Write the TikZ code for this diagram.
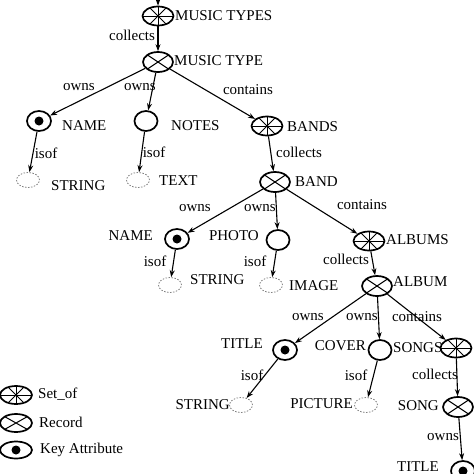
\documentclass[tikz,border=0pt]{standalone}
\usepackage{fontspec}
\setmainfont{Liberation Serif}
\usetikzlibrary{shapes.geometric,arrows.meta}
\begin{document}
\begin{tikzpicture}[x=1pt,y=-1pt,
  font=\fontsize{15}{17}\selectfont,
  base/.style={ellipse,draw,inner sep=0pt,line width=1.7pt},
  setof/.style={base,minimum width=31pt,minimum height=19pt,
    path picture={\foreach \a in {0,45,...,315}\draw[line width=1pt] (path picture bounding box.center) -- ++(\a:20pt);}},
  record/.style={base,minimum width=30pt,minimum height=20pt,
    path picture={\draw[line width=1pt] (path picture bounding box.north west) -- (path picture bounding box.south east)
      (path picture bounding box.north east) -- (path picture bounding box.south west);}},
  keyattr/.style={base,minimum width=24pt,minimum height=20pt,
    path picture={\fill (path picture bounding box.center) circle[radius=4.5pt];}},
  plainattr/.style={base,minimum width=23pt,minimum height=20pt},
  typenode/.style={ellipse,draw=gray,inner sep=0pt,minimum width=23pt,minimum height=15pt,line width=0.8pt,dash pattern=on 1.5pt off 1.5pt},
  conn/.style={-{Stealth[length=7pt,width=5pt]},line width=1.1pt},
  lab/.style={inner sep=0pt},
  tw/.style={inner sep=0pt,anchor=west},
  te/.style={inner sep=0pt,anchor=east}]
\useasboundingbox (0,0) rectangle (474,474);

% nodes
\node[setof] (mts) at (158,16) {};
\node[record] (mt) at (158,62) {};
\node[keyattr] (name1) at (39,121) {};
\node[plainattr] (notes) at (146,121) {};
\node[typenode] (str1) at (28,180) {};
\node[typenode] (text) at (138,180) {};
\node[setof] (bands) at (267,126) {};
\node[record] (band) at (275,182) {};
\node[keyattr] (name2) at (177,239) {};
\node[plainattr] (photo) at (278,240) {};
\node[typenode] (str2) at (170,285) {};
\node[typenode] (image) at (271,285) {};
\node[setof] (albums) at (369,241) {};
\node[record] (album) at (377,286) {};
\node[keyattr] (title1) at (285,350) {};
\node[plainattr] (cover) at (380,350) {};
\node[setof] (songs) at (456,348) {};
\node[typenode] (str3) at (241,405) {};
\node[typenode] (picture) at (366,405) {};
\node[record] (song) at (458,407) {};
\node[keyattr] (title2) at (463,471) {};
\coordinate (top) at (158,-4);

% names
\node[tw] (tmts) at (175,16) {MUSIC TYPES};
\node[tw] (tmt) at (174,61) {MUSIC TYPE};
\node[tw] (tname1) at (62,126) {NAME};
\node[tw] (tnotes) at (171,126) {NOTES};
\node[tw] (tstr1) at (51,186) {STRING};
\node[tw] (ttext) at (159,181) {TEXT};
\node[tw] (tbands) at (287,127) {BANDS};
\node[tw] (tband) at (295,182) {BAND};
\node[te] (tname2) at (153,236) {NAME};
\node[te] (tphoto) at (259,236) {PHOTO};
\node[tw] (tstr2) at (190,280) {STRING};
\node[tw] (timage) at (289,286) {IMAGE};
\node[tw] (talbums) at (386,240) {ALBUMS};
\node[tw] (talbum) at (393,282) {ALBUM};
\node[te] (ttitle1) at (263,344) {TITLE};
\node[te] (tcover) at (366,346) {COVER};
\node[tw] (tsongs) at (393,348) {SONGS};
\node[te] (tstr3) at (230,405) {STRING};
\node[te] (tpicture) at (353,404) {PICTURE};
\node[te] (tsong) at (439,406) {SONG};
\node[te] (ttitle2) at (439,467) {TITLE};

% connectors
\draw[conn] (top) -- (mts);
\draw[conn] (mts) -- (mt);
\draw[conn] (mt) -- (name1);
\draw[conn] (mt) -- (notes);
\draw[conn] (mt) -- (bands);
\draw[conn] (name1) -- (str1);
\draw[conn] (notes) -- (text);
\draw[conn] (bands) -- (band);
\draw[conn] (band) -- (name2);
\draw[conn] (band) -- (photo);
\draw[conn] (band) -- (albums);
\draw[conn] (name2) -- (str2);
\draw[conn] (photo) -- (image);
\draw[conn] (albums) -- (album);
\draw[conn] (album) -- (title1);
\draw[conn] (album) -- (cover);
\draw[conn] (album) -- (songs);
\draw[conn] (title1) -- (str3);
\draw[conn] (cover) -- (picture);
\draw[conn] (songs) -- (song);
\draw[conn] (song) -- (title2);

% connector labels
\node[lab] (l1) at (132,35) {collects};
\node[lab] (l2) at (79,87) {owns};
\node[lab] (l3) at (140,87) {owns};
\node[lab] (l4) at (248,90) {contains};
\node[lab] (l5) at (46,153) {isof};
\node[lab] (l6) at (154,152) {isof};
\node[lab] (l7) at (299,152) {collects};
\node[lab] (l8) at (195,208) {owns};
\node[lab] (l9) at (260,208) {owns};
\node[lab] (l10) at (362,205) {contains};
\node[lab] (l11) at (155,261) {isof};
\node[lab] (l12) at (255,261) {isof};
\node[lab] (l13) at (346,259) {collects};
\node[lab] (l14) at (308,317) {owns};
\node[lab] (l15) at (362,317) {owns};
\node[lab] (l16) at (417,317) {contains};
\node[lab] (l17) at (252,375) {isof};
\node[lab] (l18) at (356,375) {isof};
\node[lab] (l19) at (435,374) {collects};
\node[lab] (l20) at (443,437) {owns};

% legend
\node[setof,minimum width=32pt,minimum height=18pt] (lgset) at (16,395) {};
\node[record,minimum width=32pt,minimum height=18pt] (lgrec) at (16,423) {};
\node[keyattr,minimum width=32pt,minimum height=17pt] (lgkey) at (16,450) {};
\node[ellipse,fill,inner sep=0pt,minimum width=13pt,minimum height=12pt] (lgmore) at (16,480) {};
\node[tw] (tlgset) at (38,394) {Set\_of};
\node[tw] (tlgrec) at (39,422) {Record};
\node[tw] (tlgkey) at (40,450) {Key Attribute};
\end{tikzpicture}
\end{document}
